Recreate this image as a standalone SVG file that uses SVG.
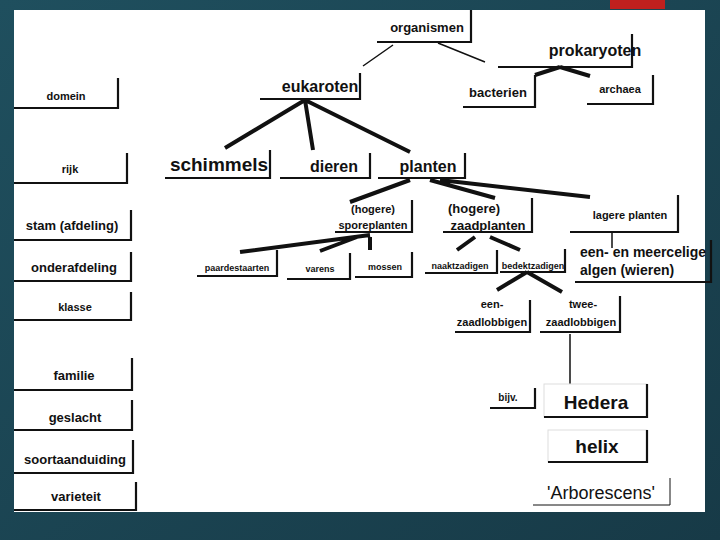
<svg xmlns="http://www.w3.org/2000/svg" width="720" height="540" viewBox="0 0 720 540">
<defs>
<linearGradient id="bg" x1="0" y1="0" x2="1" y2="1"><stop offset="0" stop-color="#1f4f5e"/><stop offset="1" stop-color="#173a47"/></linearGradient>
</defs>
<style>
.b{fill:none;stroke:#111;stroke-width:2.2}
.t{font-family:"Liberation Sans","Open Sans",sans-serif;font-weight:bold;fill:#111;text-anchor:middle}
.s{font-size:11px}.m{font-size:13px}.l{font-size:16px}
.e{stroke:#111;fill:none}
.th{stroke-width:4}.tn{stroke-width:1.5}
</style>
<rect width="720" height="540" fill="url(#bg)"/>
<rect x="14" y="10" width="691" height="502" fill="#fff"/>
<rect x="610" y="0" width="55" height="9" fill="#c0201e"/>
<g id="connectors">
<path class="e tn" d="M363 66L393 45M438 43L485 62M612 232V248M570 334V385"/>
<path class="e th" d="M560 67L535 75M560 67L590 76M305 100L225 148M305 100L313 150M305 100L410 152M410 180L350 202M430 180L495 198M440 180L590 197"/>
<path class="e th" d="M370 235L240 252M357 237L320 251M370 237V250M475 237L457 250M490 237L520 250M527 272L497 290M527 272L562 292" stroke-width="3"/>
</g>
<g id="domein"><path class="b" d="M118 78V108H14"/><text class="t s" x="66" y="100">domein</text></g>
<g id="rijk"><path class="b" d="M127 153V183H14"/><text class="t s" x="70" y="173">rijk</text></g>
<g id="stam"><path class="b" d="M131 210V240H14"/><text class="t m" x="72" y="230">stam (afdeling)</text></g>
<g id="onderafdeling"><path class="b" d="M131 252V281H14"/><text class="t m" x="74" y="272">onderafdeling</text></g>
<g id="klasse"><path class="b" d="M131 292V320H14"/><text class="t s" x="75" y="311">klasse</text></g>
<g id="familie"><path class="b" d="M132 358V390H14"/><text class="t m" x="74" y="380">familie</text></g>
<g id="geslacht"><path class="b" d="M132 400V430H14"/><text class="t m" x="75" y="422">geslacht</text></g>
<g id="soortaanduiding"><path class="b" d="M133 440V473H14"/><text class="t m" x="75" y="464">soortaanduiding</text></g>
<g id="varieteit"><path class="b" d="M136 482V510H14"/><text class="t m" x="76" y="501">varieteit</text></g>
<g id="organismen"><path class="b" d="M471 10V42H377"/><text class="t m" x="427" y="32">organismen</text></g>
<g id="prokaryoten"><path class="b" d="M632 34V67H498"/><text class="t l" x="595" y="56">prokaryoten</text></g>
<g id="bacterien"><path class="b" d="M535 75V107H463"/><text class="t m" x="498" y="97">bacterien</text></g>
<g id="archaea"><path class="b" d="M653 75V104H587"/><text class="t s" x="620" y="93">archaea</text></g>
<g id="eukaroten"><path class="b" d="M360 73V99H260"/><text class="t l" x="320" y="92">eukaroten</text></g>
<g id="schimmels"><path class="b" d="M270 150V178H165"/><text class="t" font-size="19" x="219" y="171">schimmels</text></g>
<g id="dieren"><path class="b" d="M370 153V178H280"/><text class="t l" x="334" y="172">dieren</text></g>
<g id="planten"><path class="b" d="M465 153V178H378"/><text class="t l" x="428" y="172">planten</text></g>
<g id="sporeplanten"><path class="b" d="M412 200V232H335"/><text class="t s" x="373" y="213">(hogere)</text><text class="t s" x="373" y="229">sporeplanten</text></g>
<g id="zaadplanten"><path class="b" d="M532 198V232H443"/><text class="t m" x="474" y="213">(hogere)</text><text class="t m" x="488" y="230">zaadplanten</text></g>
<g id="lagere"><path class="b" d="M678 195V232H570"/><text class="t s" x="630" y="219">lagere planten</text></g>
<g id="algen"><path class="b" d="M711 240V282H575"/><text class="t" font-size="14" x="580" y="257" style="text-anchor:start">een- en meercelige</text><text class="t" font-size="14" x="580" y="275" style="text-anchor:start">algen (wieren)</text></g>
<g id="paardestaarten"><path class="b" d="M277 250V276H197"/><text class="t" font-size="9" x="237" y="271">paardestaarten</text></g>
<g id="varens"><path class="b" d="M350 253V279H287"/><text class="t" font-size="9" x="320" y="272">varens</text></g>
<g id="mossen"><path class="b" d="M412 252V277H355"/><text class="t" font-size="9" x="385" y="270">mossen</text></g>
<g id="naaktzadigen"><path class="b" d="M497 250V273H425"/><text class="t" font-size="9" x="460" y="269">naaktzadigen</text></g>
<g id="bedektzadigen"><path class="b" d="M565 249V272H500"/><text class="t" font-size="9" x="533" y="269">bedektzadigen</text></g>
<g id="eenzaad"><path class="b" d="M530 300V332H455"/><text class="t s" x="492" y="308">een-</text><text class="t s" x="492" y="326">zaadlobbigen</text></g>
<g id="tweezaad"><path class="b" d="M620 296V332H540"/><text class="t s" x="583" y="308">twee-</text><text class="t s" x="581" y="326">zaadlobbigen</text></g>
<g id="bijv"><path class="b" d="M535 388V408H490"/><text class="t" font-size="10" x="508" y="401">bijv.</text></g>
<g id="hedera"><rect x="544" y="384" width="103" height="33" fill="#fff" stroke="#ddd"/><path class="b" d="M647 384V417H544" stroke-width="3"/><text class="t" font-size="19" x="596" y="409">Hedera</text></g>
<g id="helix"><rect x="548" y="430" width="99" height="32" fill="#fff" stroke="#ddd"/><path class="b" d="M647 430V462H548" stroke-width="3"/><text class="t" font-size="19" x="597" y="453">helix</text></g>
<g id="arborescens"><path class="e" stroke="#ccc" d="M670 478V505H533"/><text x="601" y="499" font-family="Liberation Sans,Open Sans,sans-serif" font-size="18" text-anchor="middle" fill="#111">'Arborescens'</text></g>
</svg>
